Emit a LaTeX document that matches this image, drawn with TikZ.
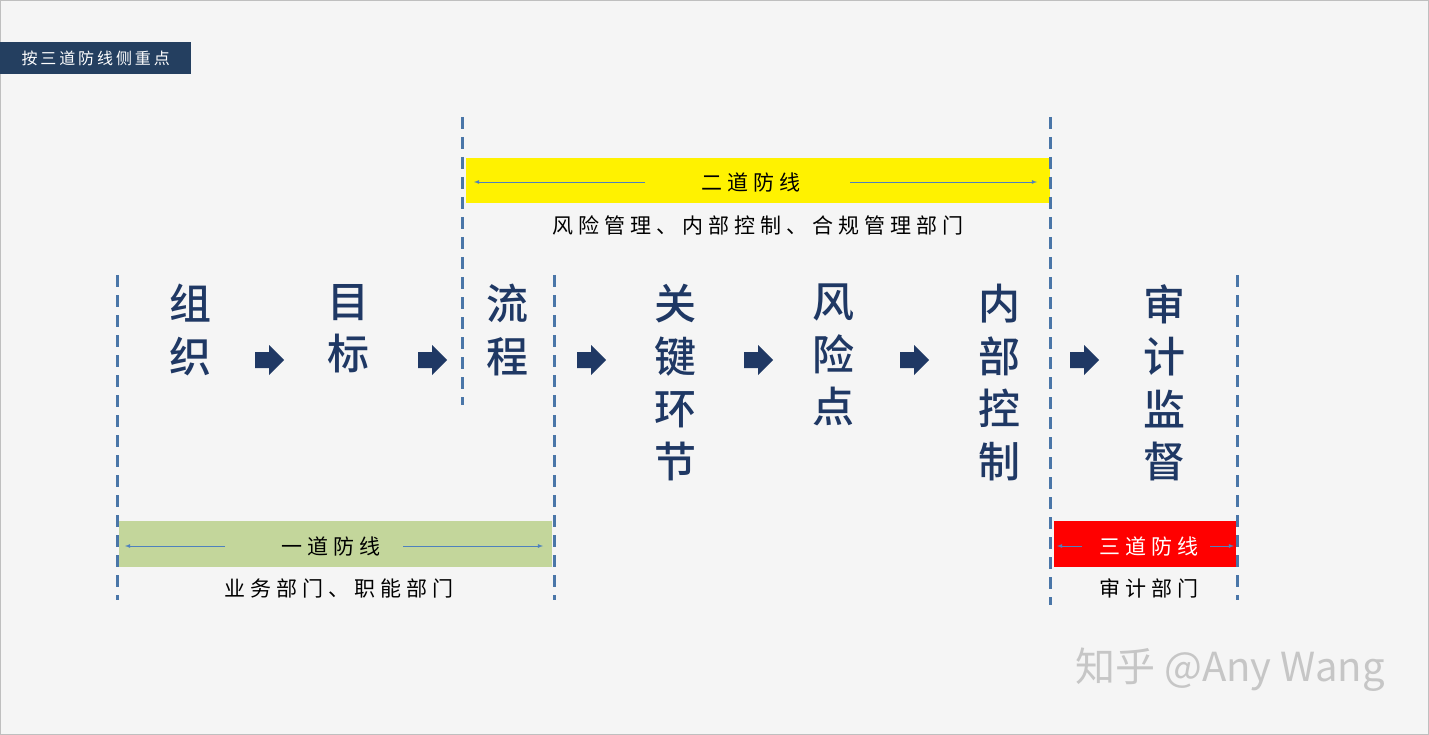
\documentclass[tikz,border=0pt]{standalone}
\usepackage{fontspec}
\setmainfont{Noto Sans CJK SC}
\newfontfamily\medf{Noto Sans CJK SC Medium}
\definecolor{bg}{HTML}{F5F5F5}
\definecolor{navy}{HTML}{1F3864}
\definecolor{tag}{HTML}{243F60}
\definecolor{dashcol}{HTML}{4A76A8}
\definecolor{thincol}{HTML}{4F81BD}
\definecolor{grn}{HTML}{C3D69B}
\begin{document}
\begin{tikzpicture}[x=1pt,y=-1pt,
  dl/.style={draw=dashcol, line width=3pt, dash pattern=on 12pt off 8pt},
  big/.style={text=navy, font=\medf\fontsize{42}{52.5}\selectfont, align=center, anchor=north, inner sep=0pt},
  lab/.style={font=\fontsize{21}{24}\selectfont\addfontfeature{LetterSpace=24}, inner sep=1pt},
  ta/.style={draw=thincol, line width=0.8pt, -latex},
  blk/.style={fill=navy}]
\fill[bg] (0,0) rectangle (1429,735);
\draw[gray!50] (0.5,0.5) rectangle (1428.5,734.5);
\node[fill=tag, text=white, minimum width=191pt, minimum height=32pt, inner sep=0pt, font=\fontsize{16}{20}\selectfont\addfontfeature{LetterSpace=18}, anchor=north west] (tg) at (0,42) {按三道防线侧重点};
% bars
\fill[yellow] (466,158) rectangle (1050,203);
\fill[grn] (119,521) rectangle (552,567);
\fill[red] (1054,521) rectangle (1236,567);
% dashed lines
\coordinate (a1) at (117,275); \coordinate (a2) at (117,600);
\coordinate (b1) at (554,275); \coordinate (b2) at (554,600);
\coordinate (c1) at (462,117); \coordinate (c2) at (462,405);
\coordinate (d1) at (1050,117); \coordinate (d2) at (1050,605);
\coordinate (e1) at (1237,275); \coordinate (e2) at (1237,600);
\draw[dl] (a1)--(a2); \draw[dl] (b1)--(b2); \draw[dl] (c1)--(c2); \draw[dl] (d1)--(d2); \draw[dl] (e1)--(e2);
% labels
\node[lab] (l2) at (751,182) {二道防线};
\node[lab] (l1) at (331,546) {一道防线};
\node[lab, text=white] (l3) at (1149,546) {三道防线};
\node[lab] at (758,225) {风险管理、内部控制、合规管理部门};
\node[lab] at (339,588) {业务部门、职能部门};
\node[lab] at (1149,588) {审计部门};
\coordinate (y1) at (474,182); \coordinate (y2) at (645,182);
\coordinate (y3) at (850,182); \coordinate (y4) at (1037,182);
\draw[ta] (y2)--(y1); \draw[ta] (y3)--(y4);
\coordinate (g1) at (125,546); \coordinate (g2) at (225,546);
\coordinate (g3) at (403,546); \coordinate (g4) at (543,546);
\draw[ta] (g2)--(g1); \draw[ta] (g3)--(g4);
\coordinate (r1) at (1057,546); \coordinate (r2) at (1082,546);
\coordinate (r3) at (1210,546); \coordinate (r4) at (1234,546);
\draw[ta] (r2)--(r1); \draw[ta] (r3)--(r4);
% big text
\node[big] (n1) at (190,284) {组\\织};
\node[big] (n2) at (348,284) {目\\标};
\node[big] (n3) at (507,284) {流\\程};
\node[big] (n4) at (675,284) {关\\键\\环\\节};
\node[big] (n5) at (833,284) {风\\险\\点};
\node[big] (n6) at (999,284) {内\\部\\控\\制};
\node[big] (n7) at (1164,284) {审\\计\\监\\督};
% block arrows
\foreach \cx in {269,432,591,758,914,1084}{
  \fill[blk] (\cx-14,352) -- (\cx,352) -- (\cx,345) -- (\cx+15,360) -- (\cx,375) -- (\cx,368) -- (\cx-14,368) -- cycle;
}
\node[text=gray!45, font=\fontsize{40}{44}\selectfont, anchor=center] (wm) at (1230,670) {知乎 @Any Wang};
\end{tikzpicture}
\end{document}
